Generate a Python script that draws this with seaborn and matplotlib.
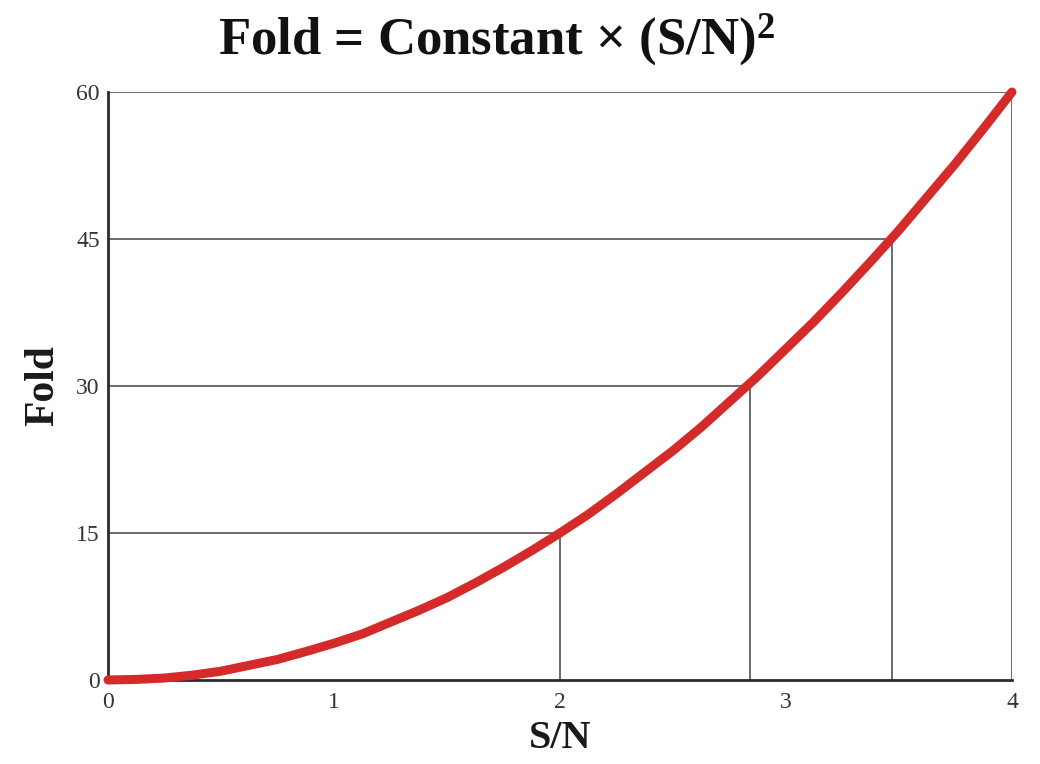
import matplotlib
matplotlib.use("Agg")
import matplotlib.pyplot as plt
import seaborn as sns
import pandas as pd

# Data
sn_values = [0.0, 0.125, 0.25, 0.375, 0.5, 0.625, 0.75, 0.875, 1.0, 1.125,
             1.25, 1.375, 1.5, 1.625, 1.75, 1.875, 2.0, 2.125, 2.25, 2.375,
             2.5, 2.625, 2.75, 2.875, 3.0, 3.125, 3.25, 3.375, 3.5, 3.625,
             3.75, 3.875, 4.0]
fold_values = [0.0, 0.06, 0.2, 0.5, 0.9, 1.5, 2.1, 2.9, 3.75, 4.7,
               5.9, 7.1, 8.4, 9.9, 11.5, 13.2, 15.0, 16.9, 19.0, 21.2,
               23.4, 25.8, 28.4, 31.0, 33.8, 36.6, 39.6, 42.7, 45.9, 49.3,
               52.7, 56.3, 60.0]
ref_fold = [15, 30, 45, 60]
ref_sn = [2.0, 2.84, 3.47, 4.0]
x_ticks = [0, 1, 2, 3, 4]
y_ticks = [0, 15, 30, 45, 60]
title_text = r"Fold = Constant $\times$ (S/N)$^{2}$"
x_label = "S/N"
y_label = "Fold"

sns.set_theme(style="white")
plt.rcParams["font.family"] = ["Liberation Serif", "DejaVu Serif"]
plt.rcParams["mathtext.fontset"] = "custom"
plt.rcParams["mathtext.rm"] = "Liberation Serif:bold"
plt.rcParams["mathtext.bf"] = "Liberation Serif:bold"
plt.rcParams["mathtext.it"] = "Liberation Serif:bold"
plt.rcParams["mathtext.default"] = "bf"

df = pd.DataFrame({"S/N": sn_values, "Fold": fold_values})

fig = plt.figure(figsize=(10.4, 7.64), dpi=100)
ax = fig.add_axes([108 / 1040, 1 - 680 / 764, (1012 - 108) / 1040, (680 - 92) / 764])

# reference lines
ax.hlines(ref_fold, 0, ref_sn, colors="#6a6a6a", lw=1.4, zorder=1)
ax.vlines(ref_sn, 0, ref_fold, colors="#6a6a6a", lw=1.4, zorder=1)

sns.lineplot(data=df, x="S/N", y="Fold", ax=ax, color="#d52a2a", lw=6.5,
             solid_capstyle="round", zorder=3, clip_on=False)

ax.set_xlim(0, 4)
ax.set_ylim(0, 60)
ax.set_xticks(x_ticks)
ax.set_yticks(y_ticks)
ax.tick_params(axis="both", length=0, labelsize=17, colors="#333333", pad=6)
ax.tick_params(axis="x", pad=9)

for s in ["top", "right"]:
    ax.spines[s].set_visible(False)
for s in ["left", "bottom"]:
    ax.spines[s].set_color("#2a2a2a")
    ax.spines[s].set_linewidth(2)

ax.set_xlabel(x_label, fontsize=29, fontweight="bold", color="#1a1a1a", labelpad=5)
ax.set_ylabel(y_label, fontsize=30, fontweight="bold", color="#1a1a1a", labelpad=10)

fig.text(497 / 1040, 1 - 40 / 764, title_text, ha="center", va="center",
         fontsize=38, fontweight="bold", color="#111111")

fig.savefig("out.png", dpi=100, facecolor="white")
